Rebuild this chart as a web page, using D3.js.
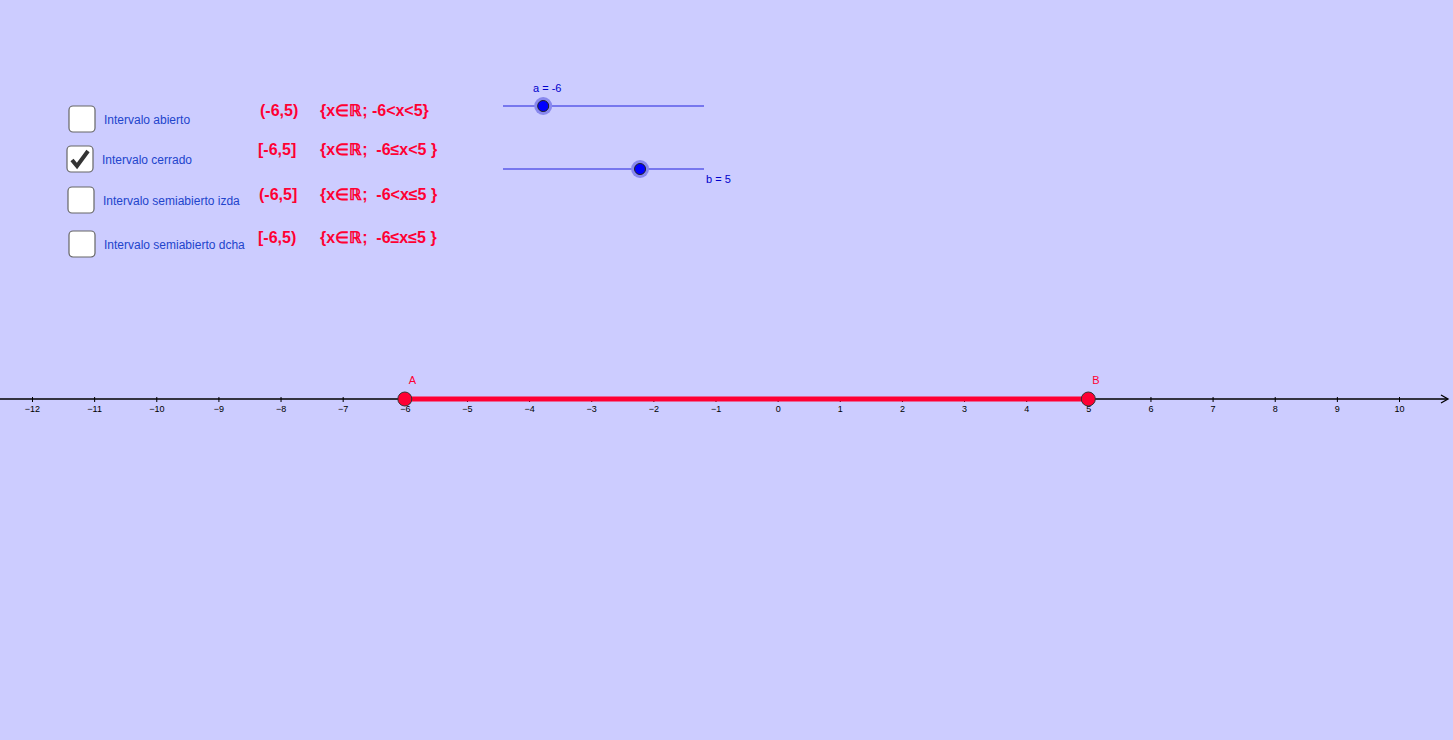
<!DOCTYPE html><html><head><meta charset="utf-8"><script src="https://cdn.jsdelivr.net/npm/d3@7"></script>
<style>body{margin:0;background:#ccccff;overflow:hidden}</style></head><body><svg id="c" width="1453" height="740"></svg>
<script>
const ticks = d3.range(-12, 11);
const aVal = -6, bVal = 5;
const checkLabels = ["Intervalo abierto","Intervalo cerrado","Intervalo semiabierto izda","Intervalo semiabierto dcha"];
const checked = [false,true,false,false];
const intervals = ["(-6,5)","[-6,5]","(-6,5]","[-6,5)"];
const sets = ["{x∈ℝ; -6<x<5}","{x∈ℝ;  -6≤x<5 }","{x∈ℝ;  -6<x≤5 }","{x∈ℝ;  -6≤x≤5 }"];
const boxY = [106,146,187,231], boxX=[69,67,68,69], labY=[124,164,205,249], labX=[104,102,103,104];
const intY=[116,155,200,243], intX=[260,258,259,258];

const svg = d3.select("#c");
svg.append("rect").attr("width",1453).attr("height",740).attr("fill","#ccccff");
const x = d3.scaleLinear().domain([-12,10]).range([32,1399]);
const Y=399;
svg.append("line").attr("x1",0).attr("x2",1447).attr("y1",Y).attr("y2",Y).attr("stroke","#000").attr("stroke-width",1.5);
svg.append("path").attr("d",`M1441,${Y-4}L1448,${Y}L1441,${Y+4}`).attr("fill","none").attr("stroke","#000").attr("stroke-width",1.3);
const ax = d3.axisBottom(x).tickValues(ticks).tickSize(3).tickFormat(d=>d<0?"\u2212"+(-d):d);
const g=svg.append("g").attr("transform",`translate(0,${Y})`).call(ax);
g.select(".domain").remove();
g.selectAll("line").attr("stroke","#000").attr("y1",-2);
g.selectAll("text").attr("font-family","Liberation Sans, Arial").attr("font-size",9).attr("y",7).attr("dy","0.71em").attr("fill","#000");
svg.append("line").attr("x1",x(aVal)).attr("x2",x(bVal)).attr("y1",Y).attr("y2",Y).attr("stroke","#ff0033").attr("stroke-width",5);
[[aVal,"A"],[bVal,"B"]].forEach(([v,l])=>{
 svg.append("circle").attr("cx",x(v)).attr("cy",Y).attr("r",7).attr("fill","#ff0033").attr("stroke","#333").attr("stroke-width",1);
 svg.append("text").attr("x",x(v)+4).attr("y",Y-15).text(l).attr("fill","#ff0033").attr("font-family","Liberation Sans, Arial").attr("font-size",11);
});
checkLabels.forEach((t,i)=>{
 svg.append("rect").attr("x",boxX[i]).attr("y",boxY[i]).attr("width",26).attr("height",26).attr("rx",4).attr("fill","#fff").attr("stroke","#666").attr("stroke-width",1.2);
 if(checked[i]) svg.append("path").attr("d",`M${boxX[i]+5},${boxY[i]+14}L${boxX[i]+10},${boxY[i]+20}L${boxX[i]+21},${boxY[i]+5}`).attr("fill","none").attr("stroke","#333").attr("stroke-width",4);
 svg.append("text").attr("x",labX[i]).attr("y",labY[i]).text(t).attr("fill","#2244cc").attr("font-family","Liberation Sans, Arial").attr("font-size",12);
 svg.append("text").attr("x",intX[i]).attr("y",intY[i]).text(intervals[i]).attr("fill","#ff0033").attr("font-weight","bold").attr("font-family","Liberation Sans, Arial").attr("font-size",16);
 svg.append("text").attr("x",320).attr("y",intY[i]).text(sets[i]).attr("fill","#ff0033").attr("font-weight","bold").attr("font-family","Liberation Sans, Arial").attr("font-size",16).style("white-space","pre");
});
const sa=d3.scaleLinear().domain([-10,10]).range([503,704]);
const sb=d3.scaleLinear().domain([-10,12]).range([503,704]);
[[sa,aVal,106],[sb,bVal,169]].forEach(([s,v,y])=>{
 svg.append("line").attr("x1",503).attr("x2",704).attr("y1",y).attr("y2",y).attr("stroke","#7777ee").attr("stroke-width",2);
 svg.append("circle").attr("cx",s(v)).attr("cy",y).attr("r",9).attr("fill","#8888ee");
 svg.append("circle").attr("cx",s(v)).attr("cy",y).attr("r",5.5).attr("fill","#0000ff").attr("stroke","#222").attr("stroke-width",1);
});
svg.append("text").attr("x",533).attr("y",92).text("a = "+aVal).attr("fill","#0000cc").attr("font-family","Liberation Sans, Arial").attr("font-size",11);
svg.append("text").attr("x",706).attr("y",183).text("b = "+bVal).attr("fill","#0000cc").attr("font-family","Liberation Sans, Arial").attr("font-size",11);
</script></body></html>
